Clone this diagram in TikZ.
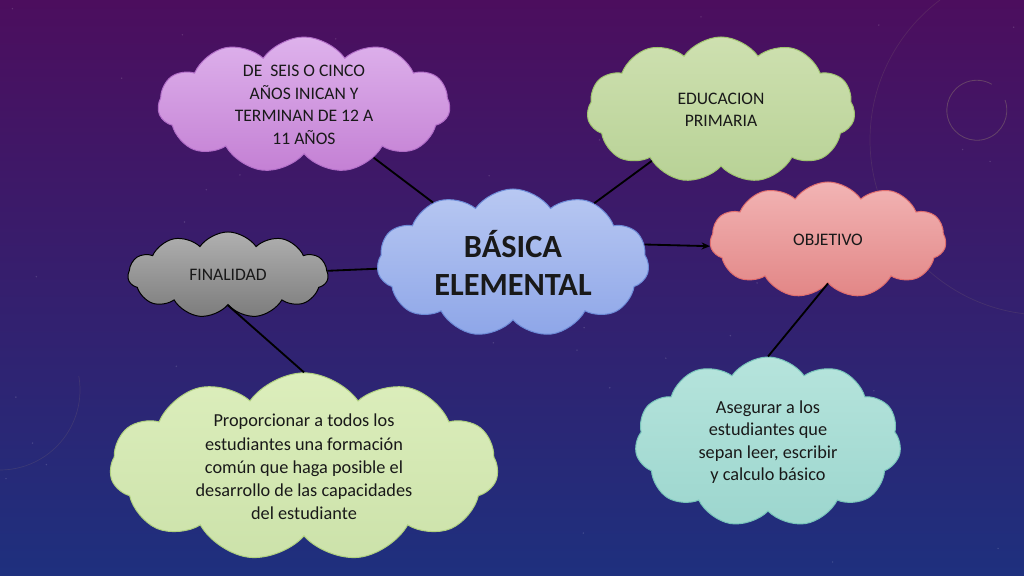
\documentclass[tikz,border=0pt]{standalone}
\usepackage{fontspec}
\setmainfont{Carlito}
\usetikzlibrary{shapes.symbols,arrows.meta}

\definecolor{fondoA}{RGB}{76,14,94}
\definecolor{fondoB}{RGB}{55,26,108}
\definecolor{fondoC}{RGB}{30,48,126}
\definecolor{lilaA}{RGB}{222,178,236}
\definecolor{lilaB}{RGB}{196,128,212}
\definecolor{lilaL}{RGB}{178,110,200}
\definecolor{verdeA}{RGB}{206,224,176}
\definecolor{verdeB}{RGB}{184,210,150}
\definecolor{verdeL}{RGB}{160,196,112}
\definecolor{azulA}{RGB}{184,200,242}
\definecolor{azulB}{RGB}{142,166,232}
\definecolor{azulL}{RGB}{110,140,216}
\definecolor{grisA}{RGB}{176,176,176}
\definecolor{grisB}{RGB}{124,124,124}
\definecolor{rosaA}{RGB}{242,180,180}
\definecolor{rosaB}{RGB}{226,134,134}
\definecolor{rosaL}{RGB}{224,110,110}
\definecolor{claroA}{RGB}{220,238,188}
\definecolor{claroB}{RGB}{204,226,170}
\definecolor{claroL}{RGB}{176,208,128}
\definecolor{turqA}{RGB}{182,228,220}
\definecolor{turqB}{RGB}{156,214,206}
\definecolor{turqL}{RGB}{120,196,186}
\definecolor{arco}{RGB}{140,120,110}

\begin{document}
\begin{tikzpicture}[x=0.025cm, y=-0.025cm, line width=1.3pt,
nube/.style={cloud, cloud puffs=11, cloud puff arc=110, cloud ignores aspect, draw, line width=0.7pt, align=center, inner sep=0pt, text=black!90, font=\fontsize{12.5}{16}\selectfont},
lila/.style={top color=lilaA, bottom color=lilaB, draw=lilaL},
verde/.style={top color=verdeA, bottom color=verdeB, draw=verdeL},
azul/.style={top color=azulA, bottom color=azulB, draw=azulL},
gris/.style={top color=grisA, bottom color=grisB, draw=black},
rosa/.style={top color=rosaA, bottom color=rosaB, draw=rosaL},
claro/.style={top color=claroA, bottom color=claroB, draw=claroL},
turq/.style={top color=turqA, bottom color=turqB, draw=turqL}]
% fondo
\shade[top color=fondoA, middle color=fondoB, bottom color=fondoC] (0,0) rectangle (1024,576);
\useasboundingbox (0,0) rectangle (1024,576);
\pgfmathsetseed{11}
\foreach \i in {1,...,60}{
  \fill[white, opacity=0.15] ({rnd*1024},{rnd*576}) circle (0.8);
}
\draw[arco, opacity=0.2, line width=0.5pt] (1045,140) circle (175);
\draw[arco, opacity=0.45, line width=0.6pt] (1005,100) arc (-20:300:30);
\draw[arco, opacity=0.2, line width=0.5pt] (0,470) arc (90:-10:80);
\begin{scope}
\node[nube, lila, minimum width=7.3cm, minimum height=2.9cm] (edad) at (304,105) {DE\ \ SEIS O CINCO\\AÑOS INICAN Y\\TERMINAN DE 12 A\\11 AÑOS};
\node[nube, verde, minimum width=6.7cm, minimum height=3.65cm] (primaria) at (721,110) {EDUCACION\\PRIMARIA};
\node[nube, azul, minimum width=6.8cm, minimum height=3.7cm, font=\fontsize{23}{27}\selectfont\bfseries] (basica) at (513,263) {BÁSICA\\ELEMENTAL};
\node[nube, gris, minimum width=5.0cm, minimum height=2.15cm] (finalidad) at (228,275) {FINALIDAD};
\node[nube, rosa, minimum width=5.9cm, minimum height=2.9cm] (objetivo) at (828,240) {OBJETIVO};
\node[nube, claro, minimum width=9.7cm, minimum height=4.5cm, font=\fontsize{13}{16.5}\selectfont] (formacion) at (304,467) {Proporcionar a todos los\\estudiantes una formación\\común que haga posible el\\desarrollo de las capacidades\\del estudiante};
\node[nube, turq, minimum width=6.65cm, minimum height=4.25cm, font=\fontsize{13}{16}\selectfont] (asegurar) at (768,442) {Asegurar a los\\estudiantes que\\sepan leer, escribir\\y calculo básico};
\end{scope}
\begin{scope}[black]
\draw (edad) -- (basica);
\draw (primaria) -- (basica);
\draw[-{Stealth[length=6pt,width=5pt]}] (basica.8) -- (objetivo.183);
\draw (finalidad) -- (basica);
\draw (finalidad.south) -- (formacion.north);
\draw (objetivo.south) -- (asegurar.north);
\end{scope}
\end{tikzpicture}
\end{document}
